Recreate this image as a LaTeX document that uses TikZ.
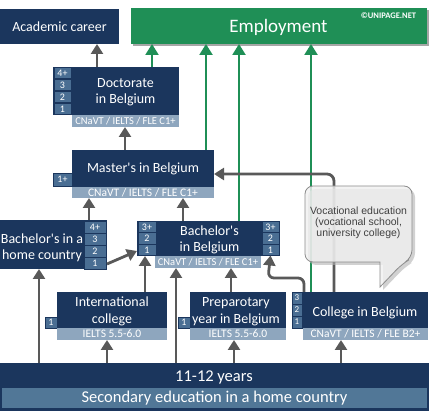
\documentclass[tikz,border=0pt]{standalone}
\usepackage{fontspec}
\setmainfont{Carlito}[Ligatures=TeXOff]
\newfontfamily\arialf{Liberation Sans}
\usetikzlibrary{arrows.meta,shadows}
\definecolor{navy}{HTML}{1B365D}
\definecolor{cellb}{HTML}{4A6E93}
\definecolor{barb}{HTML}{8EA6BE}
\definecolor{secinc}{HTML}{517797}
\definecolor{empg}{HTML}{1F8F56}
\definecolor{arrg}{HTML}{595959}
\begin{document}
\begin{tikzpicture}[x=1pt,y=-1pt,
  darkbox/.style={fill=navy, draw=none, inner sep=0pt, outer sep=0pt, text=white, align=center, font=\fontsize{14}{16.5}\selectfont},
  boxtext/.style={text=white, align=center, inner sep=0pt, font=\fontsize{14}{16.5}\selectfont},
  cellbox/.style={fill=cellb, draw=navy, line width=0.8pt, inner sep=0pt, outer sep=0pt, text=white, font=\fontsize{10}{10}\selectfont},
  subbar/.style={fill=barb, inner sep=0pt, outer sep=0pt, text=white, font=\fontsize{10.5}{12}\selectfont},
  subbarL/.style={subbar, font=\fontsize{11.5}{12}\selectfont},
  garrow/.style={draw=arrg, line width=2.8pt, -{Triangle[width=12pt,length=10pt]}},
  earrow/.style={draw=empg, line width=2.2pt, -{Triangle[width=13pt,length=11pt]}},
]
\useasboundingbox (0,0) rectangle (432,411);

% top boxes
\node[darkbox, minimum width=119pt, minimum height=35pt] (acad) at (59.5,26.5) {Academic career};
\node[fill=empg, inner sep=0pt, outer sep=0pt, minimum width=296pt, minimum height=36pt,
  drop shadow={shadow xshift=2pt, shadow yshift=-2pt, fill=black!35, opacity=1}] (emp) at (279,26) {};
\node[text=white, inner sep=0pt, font=\fontsize{19}{19}\selectfont] (emptxt) at (278.5,27) {Employment};
\node[text=white, inner sep=0pt, font=\bfseries\fontsize{8.5}{8.5}\selectfont] (copy) at (388.5,16) {©UNIPAGE.NET};

% Doctorate
\node[darkbox, minimum width=126pt, minimum height=48pt] (doc) at (116,91) {};
\node[boxtext] (doctxt) at (125.5,92) {Doctorate\\in Belgium};
\node[cellbox, minimum width=17pt, minimum height=11.5pt] (docc4) at (62.5,73) {4+};
\node[cellbox, minimum width=17pt, minimum height=11.5pt] (docc3) at (62.5,85) {3};
\node[cellbox, minimum width=17pt, minimum height=11.5pt] (docc2) at (62.5,97) {2};
\node[cellbox, minimum width=17pt, minimum height=11.5pt] (docc1) at (62.5,109) {1};
\node[subbar, minimum width=107pt, minimum height=12pt] (docbar) at (125.5,121) {CNaVT / IELTS / FLE C1+};

% Master's
\node[darkbox, minimum width=142pt, minimum height=37pt] (mas) at (143,168.5) {Master's in Belgium};
\node[cellbox, minimum width=19pt, minimum height=13pt] (masc1) at (62.5,179.5) {1+};
\node[subbarL, minimum width=142pt, minimum height=11pt] (masbar) at (143,192.5) {CNaVT / IELTS / FLE C1+};

% Bachelor's in a home country
\node[darkbox, minimum width=107pt, minimum height=49pt] (bh) at (53.5,244.5) {};
\node[boxtext] (bhtxt) at (42,248) {Bachelor's in a\\home country};
\node[cellbox, minimum width=22pt, minimum height=12pt] (bhc4) at (95,227) {4+};
\node[cellbox, minimum width=22pt, minimum height=12pt] (bhc3) at (95,239) {3};
\node[cellbox, minimum width=22pt, minimum height=12pt] (bhc2) at (95,251) {2};
\node[cellbox, minimum width=22pt, minimum height=12pt] (bhc1) at (95,263) {1};

% Bachelor's in Belgium
\node[darkbox, minimum width=143pt, minimum height=35pt] (bb) at (208.5,238.5) {};
\node[boxtext] (bbtxt) at (209.5,240) {Bachelor's\\in Belgium};
\node[cellbox, minimum width=18pt, minimum height=11.3pt] (bbl3) at (147,227.2) {3+};
\node[cellbox, minimum width=18pt, minimum height=11.3pt] (bbl2) at (147,238.5) {2};
\node[cellbox, minimum width=18pt, minimum height=11.3pt] (bbl1) at (147,249.8) {1};
\node[cellbox, minimum width=17pt, minimum height=11.3pt] (bbr3) at (270.5,227.2) {3+};
\node[cellbox, minimum width=17pt, minimum height=11.3pt] (bbr2) at (270.5,238.5) {2};
\node[cellbox, minimum width=17pt, minimum height=11.3pt] (bbr1) at (270.5,249.8) {1};
\node[subbar, minimum width=106pt, minimum height=12pt] (bbbar) at (208,262) {CNaVT / IELTS / FLE C1+};

% International college
\node[darkbox, minimum width=110pt, minimum height=36pt] (ic) at (112,310) {};
\node[boxtext] (ictxt) at (112,311.5) {International\\college};
\node[cellbox, minimum width=12pt, minimum height=11pt] (icc1) at (51,322.5) {1};
\node[subbarL, minimum width=110pt, minimum height=12pt] (icbar) at (112,334) {IELTS 5.5-6.0};

% Preparatory year
\node[darkbox, minimum width=96pt, minimum height=36pt] (pr) at (238,310) {};
\node[boxtext] (prtxt) at (236,311.5) {Preparotary\\year in Belgium};
\node[cellbox, minimum width=12pt, minimum height=11pt] (prc1) at (184,322.5) {1};
\node[subbarL, minimum width=96pt, minimum height=12pt] (prbar) at (238,334) {IELTS 5.5-6.0};

% College in Belgium
\node[darkbox, minimum width=136pt, minimum height=36pt] (co) at (360,310) {};
\node[boxtext] (cotxt) at (365,313) {College in Belgium};
\node[cellbox, minimum width=10pt, minimum height=12pt, font=\fontsize{9}{9}\selectfont] (coc3) at (297,298) {3};
\node[cellbox, minimum width=10pt, minimum height=12pt, font=\fontsize{9}{9}\selectfont] (coc2) at (297,310) {2};
\node[cellbox, minimum width=10pt, minimum height=12pt, font=\fontsize{9}{9}\selectfont] (coc1) at (297,322) {1};
\node[subbarL, minimum width=125pt, minimum height=12pt] (cobar) at (365.5,334) {CNaVT / IELTS / FLE B2+};

% Secondary
\node[darkbox, minimum width=429pt, minimum height=48pt] (sec) at (214.5,387) {};
\node[text=white, inner sep=0pt, font=\fontsize{16.5}{16.5}\selectfont] (yrs) at (214,377) {11-12 years};
\node[fill=secinc, inner sep=0pt, outer sep=0pt, minimum width=425pt, minimum height=20pt, text=white, font=\fontsize{16.5}{16.5}\selectfont] (secin) at (214.5,398) {Secondary education in a home country};

% gray connectors
\draw[garrow] (doc.north -| 97,0) -- (acad.south -| 97,0);
\draw[garrow] (mas.north -| 125,0) -- (docbar.south -| 125,0);
\draw[garrow] (bh.north -| 89,0) -- (masbar.south -| 89,0);
\draw[garrow] (bb.north -| 183,0) -- (masbar.south -| 183,0);
\draw[garrow] (bh.east |- 0,264) -- (bb.west |- 0,251);
\draw[garrow] (sec.north -| 39,0) -- (bh.south -| 39,0);
\draw[garrow] (sec.north -| 107,0) -- (icbar.south -| 107,0);
\draw[garrow] (ic.north -| 145,0) -- (bb.south -| 145,0);
\draw[garrow] (sec.north -| 176,0) -- (bbbar.south -| 176,0);
\draw[garrow] (pr.north -| 231,0) -- (bbbar.south -| 231,0);
\draw[garrow] (sec.north -| 234,0) -- (prbar.south -| 234,0);
\draw[garrow] (sec.north -| 341,0) -- (cobar.south -| 341,0);
\coordinate (bend13) at (268,278);
\draw[garrow, rounded corners=6pt] (co.north -| 304,0) |- (bend13) -- (bbr1.south);

% green connectors
\draw[earrow] (doc.north -| 152,0) -- (emp.south -| 152,0);
\draw[earrow] (mas.north -| 206,0) -- (emp.south -| 206,0);
\draw[earrow] (bb.north -| 239,0) -- (emp.south -| 239,0);
\draw[earrow] (co.north -| 311,0) -- (emp.south -| 311,0);

\draw[garrow, rounded corners=7pt] (co.north -| 334,0) |- (mas.east |- 0,174);

% callout
\fill[black!30, opacity=0.6, shift={(3pt,-3pt)}] (305,220) [rounded corners=8pt] -- (305,186) -- (412,186) -- (412,258) -- (402,264) [sharp corners] -- (380,287) -- (380,262) [rounded corners=8pt] -- (305,262) -- cycle;
\draw[draw=black!45, line width=0.8pt, fill=black!6, fill opacity=0.82] (305,220) [rounded corners=8pt] -- (305,186) -- (412,186) -- (412,258) -- (402,264) [sharp corners] -- (380,287) -- (380,262) [rounded corners=8pt] -- (305,262) -- cycle;
\node[font=\arialf\fontsize{10.5}{11}\selectfont, align=center, text=black!75, inner sep=0pt] (voc) at (358.5,223) {Vocational education\\(vocational school,\\university college)};
\end{tikzpicture}
\end{document}
